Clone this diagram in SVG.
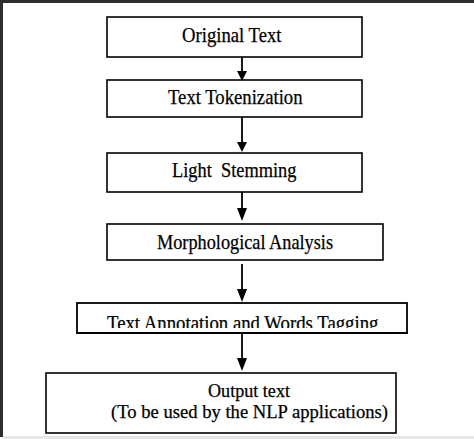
<svg xmlns="http://www.w3.org/2000/svg" width="474" height="439" viewBox="0 0 474 439">
<style>
.box{fill:#fff;stroke:#000;stroke-width:1.6}
.frame{fill:none;stroke:#000;stroke-width:1.8}
.t{font-family:"Liberation Serif","Times New Roman",serif;font-size:21px;fill:#000;stroke:#000;stroke-width:0.25}
.s{font-size:18.5px}
.c{stroke:#000;stroke-width:1.8;fill:none}
.h{fill:#000}
</style>
<defs>
<clipPath id="clip5"><rect x="77" y="303" width="330" height="25"/></clipPath>
</defs>
<rect x="0" y="0" width="474" height="439" fill="#fff"/>
<rect x="0" y="0" width="474" height="3" fill="#2e2e2e"/>
<rect x="0" y="0" width="3" height="437" fill="#2e2e2e"/>
<rect x="3" y="436" width="471" height="3" fill="#e6e6e6"/>
<g id="connectors">
<line class="c" x1="242" y1="57" x2="242" y2="72"/>
<polygon class="h" points="237,71 247,71 242,81"/>
<line class="c" x1="242" y1="114" x2="242" y2="143"/>
<polygon class="h" points="237,142 247,142 242,152"/>
<line class="c" x1="242" y1="192" x2="242" y2="209"/>
<polygon class="h" points="237,208 247,208 242,221"/>
<line class="c" x1="242" y1="264" x2="242" y2="290"/>
<polygon class="h" points="237,289 247,289 242,302"/>
<line class="c" x1="242" y1="334" x2="242" y2="359"/>
<polygon class="h" points="237,358 247,358 242,371"/>
</g>
<g id="n1"><rect class="box" x="107" y="17" width="255" height="40"/><text class="t" x="182" y="42.3" textLength="99.5" lengthAdjust="spacingAndGlyphs">Original Text</text></g>
<g id="n2"><rect class="box" x="107" y="80" width="255" height="37"/><text class="t" x="168" y="104" textLength="134.5" lengthAdjust="spacingAndGlyphs">Text Tokenization</text></g>
<g id="n3"><rect class="box" x="107" y="153" width="255" height="39"/><text class="t" x="172" y="177.3" textLength="124.5" lengthAdjust="spacingAndGlyphs" xml:space="preserve">Light  Stemming</text></g>
<g id="n4"><rect class="box" x="107" y="224" width="276" height="36"/><text class="t" x="157" y="248.5" textLength="176" lengthAdjust="spacingAndGlyphs">Morphological Analysis</text></g>
<g id="n5"><rect x="77" y="303" width="330" height="30" fill="#fff"/><g clip-path="url(#clip5)"><text class="t" x="107" y="329.5" textLength="271.5" lengthAdjust="spacingAndGlyphs">Text Annotation and Words Tagging</text></g><rect class="frame" x="77" y="303" width="330" height="30"/><line x1="76" y1="333" x2="408" y2="333" stroke="#000" stroke-width="2"/></g>
<g id="n6"><rect class="box" x="46" y="373" width="350" height="60"/><text class="t s" x="208" y="397" textLength="82" lengthAdjust="spacingAndGlyphs">Output text</text><text class="t s" x="111" y="418.3" textLength="277" lengthAdjust="spacingAndGlyphs">(To be used by the NLP applications)</text></g>
</svg>
